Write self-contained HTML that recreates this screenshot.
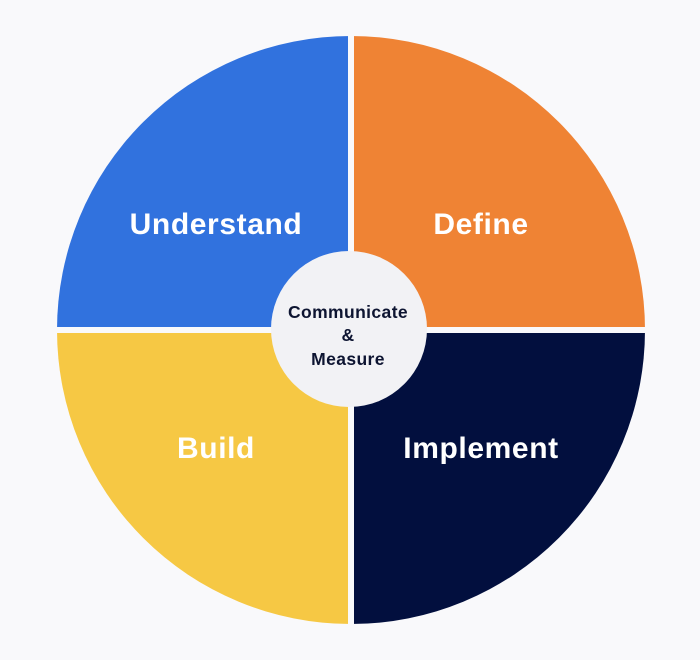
<!DOCTYPE html>
<html><head><meta charset="utf-8"><style>
html,body{margin:0;padding:0;background:#f9f9fb;}
svg{display:block;}
text{font-family:"Liberation Sans",sans-serif;font-weight:bold;}
</style></head><body>
<svg width="700" height="660" viewBox="0 0 700 660">
<rect width="700" height="660" fill="#f9f9fb"/>
<path d="M351 330 L351 36 A294 294 0 0 0 57 330 Z" fill="#3172de"/>
<path d="M351 330 L645 330 A294 294 0 0 0 351 36 Z" fill="#ef8334"/>
<path d="M351 330 L57 330 A294 294 0 0 0 351 624 Z" fill="#f6c844"/>
<path d="M351 330 L351 624 A294 294 0 0 0 645 330 Z" fill="#020f3e"/>
<line x1="351" y1="30" x2="351" y2="630" stroke="#f9f9fb" stroke-width="6"/>
<line x1="50" y1="330" x2="650" y2="330" stroke="#f9f9fb" stroke-width="6"/>
<circle cx="349" cy="329" r="78" fill="#f2f2f5"/>
<g fill="#fff" font-size="30" letter-spacing="0.6" text-anchor="middle">
<text x="216" y="234">Understand</text>
<text x="481" y="234">Define</text>
<text x="216" y="458">Build</text>
<text x="481" y="458">Implement</text>
</g>
<g fill="#0d1431" font-size="17.5" letter-spacing="0.4" text-anchor="middle">
<text x="348" y="318">Communicate</text>
<text x="348" y="341">&amp;</text>
<text x="348" y="365">Measure</text>
</g>
</svg>
</body></html>
